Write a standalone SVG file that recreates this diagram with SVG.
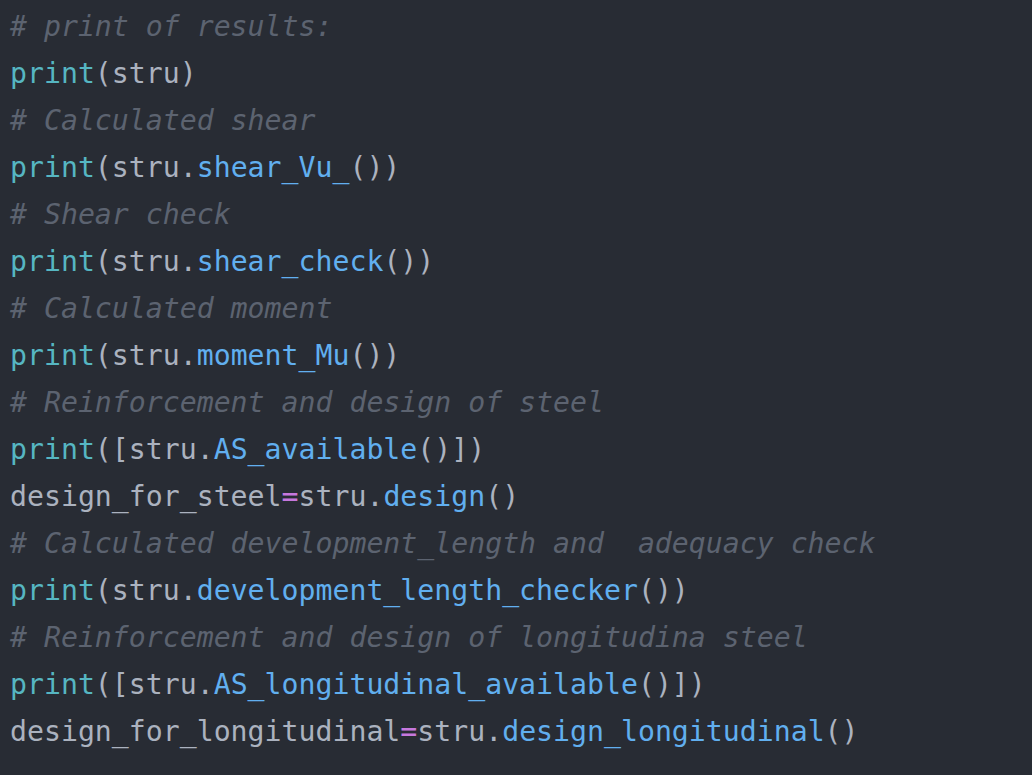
<svg xmlns="http://www.w3.org/2000/svg" width="1032" height="775" viewBox="0 0 1032 775">
<style>
text{font-family:"DejaVu Sans Mono","Liberation Mono",monospace;font-size:28.2px;fill:#abb2bf;white-space:pre}
.c{fill:#5c6370;font-style:italic}
.p{fill:#56b6c2}
.m{fill:#61afef}
.o{fill:#c678dd}
</style>
<rect width="1032" height="775" fill="#282c34"/>
<g id="code" xml:space="preserve">
<text x="10" y="36" class="c"># print of results:</text>
<text x="10" y="83"><tspan class="p">print</tspan>(stru)</text>
<text x="10" y="130" class="c"># Calculated shear</text>
<text x="10" y="177"><tspan class="p">print</tspan>(stru.<tspan class="m">shear_Vu_</tspan>())</text>
<text x="10" y="224" class="c"># Shear check</text>
<text x="10" y="271"><tspan class="p">print</tspan>(stru.<tspan class="m">shear_check</tspan>())</text>
<text x="10" y="318" class="c"># Calculated moment</text>
<text x="10" y="365"><tspan class="p">print</tspan>(stru.<tspan class="m">moment_Mu</tspan>())</text>
<text x="10" y="412" class="c"># Reinforcement and design of steel</text>
<text x="10" y="459"><tspan class="p">print</tspan>([stru.<tspan class="m">AS_available</tspan>()])</text>
<text x="10" y="506">design_for_steel<tspan class="o">=</tspan>stru.<tspan class="m">design</tspan>()</text>
<text x="10" y="553" class="c"># Calculated development_length and  adequacy check</text>
<text x="10" y="600"><tspan class="p">print</tspan>(stru.<tspan class="m">development_length_checker</tspan>())</text>
<text x="10" y="647" class="c"># Reinforcement and design of longitudina steel</text>
<text x="10" y="694"><tspan class="p">print</tspan>([stru.<tspan class="m">AS_longitudinal_available</tspan>()])</text>
<text x="10" y="741">design_for_longitudinal<tspan class="o">=</tspan>stru.<tspan class="m">design_longitudinal</tspan>()</text>
</g>
</svg>
